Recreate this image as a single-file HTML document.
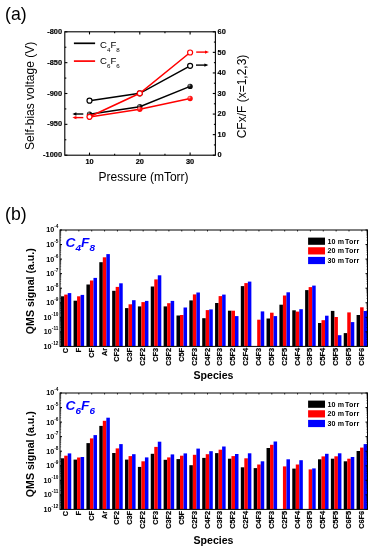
<!DOCTYPE html><html><head><meta charset="utf-8"><title>Figure</title><style>html,body{margin:0;padding:0;background:#fff}svg{display:block}text{font-family:"Liberation Sans", Arial, sans-serif}</style></head><body>
<svg width="374" height="550" viewBox="0 0 374 550">
<rect width="374" height="550" fill="#fff"/>
<text x="5" y="19.6" font-size="17.7" fill="#000">(a)</text>
<text x="5" y="219.6" font-size="17.7" fill="#000">(b)</text>
<g stroke="#000" stroke-width="1.1" fill="none">
<rect x="64.8" y="31.8" width="150.6" height="123.4"/>
<line x1="64.8" y1="31.80" x2="67.39999999999999" y2="31.80"/>
<line x1="64.8" y1="47.23" x2="66.3" y2="47.23"/>
<line x1="64.8" y1="62.65" x2="67.39999999999999" y2="62.65"/>
<line x1="64.8" y1="78.08" x2="66.3" y2="78.08"/>
<line x1="64.8" y1="93.50" x2="67.39999999999999" y2="93.50"/>
<line x1="64.8" y1="108.92" x2="66.3" y2="108.92"/>
<line x1="64.8" y1="124.35" x2="67.39999999999999" y2="124.35"/>
<line x1="64.8" y1="139.78" x2="66.3" y2="139.78"/>
<line x1="64.8" y1="155.20" x2="67.39999999999999" y2="155.20"/>
<line x1="215.4" y1="31.80" x2="212.8" y2="31.80"/>
<line x1="215.4" y1="42.08" x2="213.9" y2="42.08"/>
<line x1="215.4" y1="52.37" x2="212.8" y2="52.37"/>
<line x1="215.4" y1="62.65" x2="213.9" y2="62.65"/>
<line x1="215.4" y1="72.93" x2="212.8" y2="72.93"/>
<line x1="215.4" y1="83.22" x2="213.9" y2="83.22"/>
<line x1="215.4" y1="93.50" x2="212.8" y2="93.50"/>
<line x1="215.4" y1="103.78" x2="213.9" y2="103.78"/>
<line x1="215.4" y1="114.07" x2="212.8" y2="114.07"/>
<line x1="215.4" y1="124.35" x2="213.9" y2="124.35"/>
<line x1="215.4" y1="134.63" x2="212.8" y2="134.63"/>
<line x1="215.4" y1="144.92" x2="213.9" y2="144.92"/>
<line x1="215.4" y1="155.20" x2="212.8" y2="155.20"/>
<line x1="89.50" y1="155.2" x2="89.50" y2="152.6"/>
<line x1="89.50" y1="31.8" x2="89.50" y2="34.4"/>
<line x1="114.65" y1="155.2" x2="114.65" y2="153.7"/>
<line x1="114.65" y1="31.8" x2="114.65" y2="33.3"/>
<line x1="139.80" y1="155.2" x2="139.80" y2="152.6"/>
<line x1="139.80" y1="31.8" x2="139.80" y2="34.4"/>
<line x1="164.95" y1="155.2" x2="164.95" y2="153.7"/>
<line x1="164.95" y1="31.8" x2="164.95" y2="33.3"/>
<line x1="190.10" y1="155.2" x2="190.10" y2="152.6"/>
<line x1="190.10" y1="31.8" x2="190.10" y2="34.4"/>
</g>
<g font-size="7.4" font-weight="bold" fill="#000" stroke="#000" stroke-width="0.15">
<text x="62" y="33.90" text-anchor="end">-800</text>
<text x="62" y="64.75" text-anchor="end">-850</text>
<text x="62" y="95.60" text-anchor="end">-900</text>
<text x="62" y="126.45" text-anchor="end">-950</text>
<text x="62" y="157.30" text-anchor="end">-1000</text>
<text x="217.6" y="34.05">60</text>
<text x="217.6" y="54.62">50</text>
<text x="217.6" y="75.18">40</text>
<text x="217.6" y="95.75">30</text>
<text x="217.6" y="116.32">20</text>
<text x="217.6" y="136.88">10</text>
<text x="217.6" y="157.45">0</text>
<text x="89.50" y="163.5" text-anchor="middle">10</text>
<text x="139.80" y="163.5" text-anchor="middle">20</text>
<text x="190.10" y="163.5" text-anchor="middle">30</text>
</g>
<g font-size="12" fill="#000">
<text transform="translate(34.2,95.9) rotate(-90)" text-anchor="middle">Self-bias voltage (V)</text>
<text transform="translate(246.2,96.5) rotate(-90)" text-anchor="middle">CFx/F (x=1,2,3)</text>
<text x="143.6" y="181" text-anchor="middle">Pressure (mTorr)</text>
</g>
<g stroke-width="1.7" fill="none"><line x1="73.9" y1="43.3" x2="95.1" y2="43.3" stroke="#000"/><line x1="73.9" y1="61.1" x2="95.1" y2="61.1" stroke="#f00"/></g>
<g font-size="9.6" fill="#000"><text x="100" y="47.5">C<tspan font-size="6.2" dy="4.2">4</tspan><tspan dy="-4.2">F</tspan><tspan font-size="6.2" dy="4.2">8</tspan></text>
<text x="100" y="63.8">C<tspan font-size="6.2" dy="4.2">6</tspan><tspan dy="-4.2">F</tspan><tspan font-size="6.2" dy="4.2">6</tspan></text></g>
<defs><radialGradient id="gk" cx="0.35" cy="0.3" r="0.7"><stop offset="0" stop-color="#999"/><stop offset="0.45" stop-color="#111"/><stop offset="1" stop-color="#000"/></radialGradient><radialGradient id="gr" cx="0.35" cy="0.3" r="0.7"><stop offset="0" stop-color="#ffb0b0"/><stop offset="0.45" stop-color="#ff1a1a"/><stop offset="1" stop-color="#f00"/></radialGradient></defs>
<polyline points="89.50,114.20 139.80,106.70 190.10,86.40" fill="none" stroke="#000" stroke-width="1.5"/>
<circle cx="89.50" cy="114.20" r="2.65" fill="url(#gk)"/>
<circle cx="139.80" cy="106.70" r="2.65" fill="url(#gk)"/>
<circle cx="190.10" cy="86.40" r="2.65" fill="url(#gk)"/>
<polyline points="89.50,117.00 139.80,109.30 190.10,98.50" fill="none" stroke="#f00" stroke-width="1.5"/>
<circle cx="89.50" cy="117.00" r="2.65" fill="url(#gr)"/>
<circle cx="139.80" cy="109.30" r="2.65" fill="url(#gr)"/>
<circle cx="190.10" cy="98.50" r="2.65" fill="url(#gr)"/>
<polyline points="89.50,100.70 139.80,93.30 190.10,65.80" fill="none" stroke="#000" stroke-width="1.5"/>
<circle cx="89.50" cy="100.70" r="2.5" fill="#fff" stroke="#000" stroke-width="1.2"/>
<circle cx="139.80" cy="93.30" r="2.5" fill="#fff" stroke="#000" stroke-width="1.2"/>
<circle cx="190.10" cy="65.80" r="2.5" fill="#fff" stroke="#000" stroke-width="1.2"/>
<polyline points="89.50,116.80 139.80,93.30 190.10,52.50" fill="none" stroke="#f00" stroke-width="1.5"/>
<circle cx="89.50" cy="116.80" r="2.5" fill="#fff" stroke="#f00" stroke-width="1.2"/>
<circle cx="139.80" cy="93.30" r="2.5" fill="#fff" stroke="#f00" stroke-width="1.2"/>
<circle cx="190.10" cy="52.50" r="2.5" fill="#fff" stroke="#f00" stroke-width="1.2"/>
<line x1="83.3" y1="114.0" x2="74.4" y2="114.0" stroke="#000" stroke-width="1.4"/>
<polygon points="72.4,114.0 76.4,112.3 76.4,115.7" fill="#000"/>
<line x1="83.3" y1="117.6" x2="74.4" y2="117.6" stroke="#f00" stroke-width="1.4"/>
<polygon points="72.4,117.6 76.4,115.89999999999999 76.4,119.3" fill="#f00"/>
<line x1="196.2" y1="52.1" x2="207.0" y2="52.1" stroke="#f00" stroke-width="1.4"/>
<polygon points="209.0,52.1 205.0,50.4 205.0,53.800000000000004" fill="#f00"/>
<line x1="196.0" y1="65.1" x2="206.4" y2="65.1" stroke="#000" stroke-width="1.4"/>
<polygon points="208.4,65.1 204.4,63.39999999999999 204.4,66.8" fill="#000"/>
<rect x="60.70" y="296.30" width="3.52" height="50.10" fill="#000"/>
<rect x="64.22" y="294.60" width="3.52" height="51.80" fill="#f00"/>
<rect x="67.74" y="293.10" width="3.52" height="53.30" fill="#00f"/>
<rect x="73.56" y="300.70" width="3.52" height="45.70" fill="#000"/>
<rect x="77.08" y="296.30" width="3.52" height="50.10" fill="#f00"/>
<rect x="80.61" y="294.90" width="3.52" height="51.50" fill="#00f"/>
<rect x="86.43" y="284.50" width="3.52" height="61.90" fill="#000"/>
<rect x="89.95" y="280.50" width="3.52" height="65.90" fill="#f00"/>
<rect x="93.47" y="277.90" width="3.52" height="68.50" fill="#00f"/>
<rect x="99.30" y="262.20" width="3.52" height="84.20" fill="#000"/>
<rect x="102.81" y="257.30" width="3.52" height="89.10" fill="#f00"/>
<rect x="106.34" y="254.10" width="3.52" height="92.30" fill="#00f"/>
<rect x="112.16" y="290.80" width="3.52" height="55.60" fill="#000"/>
<rect x="115.68" y="286.90" width="3.52" height="59.50" fill="#f00"/>
<rect x="119.20" y="283.30" width="3.52" height="63.10" fill="#00f"/>
<rect x="125.03" y="308.10" width="3.52" height="38.30" fill="#000"/>
<rect x="128.55" y="304.30" width="3.52" height="42.10" fill="#f00"/>
<rect x="132.06" y="300.20" width="3.52" height="46.20" fill="#00f"/>
<rect x="137.89" y="306.40" width="3.52" height="40.00" fill="#000"/>
<rect x="141.41" y="302.10" width="3.52" height="44.30" fill="#f00"/>
<rect x="144.93" y="300.90" width="3.52" height="45.50" fill="#00f"/>
<rect x="150.75" y="286.50" width="3.52" height="59.90" fill="#000"/>
<rect x="154.28" y="279.40" width="3.52" height="67.00" fill="#f00"/>
<rect x="157.79" y="275.30" width="3.52" height="71.10" fill="#00f"/>
<rect x="163.62" y="306.40" width="3.52" height="40.00" fill="#000"/>
<rect x="167.14" y="303.20" width="3.52" height="43.20" fill="#f00"/>
<rect x="170.66" y="300.90" width="3.52" height="45.50" fill="#00f"/>
<rect x="176.49" y="315.50" width="3.52" height="30.90" fill="#000"/>
<rect x="180.01" y="315.00" width="3.52" height="31.40" fill="#f00"/>
<rect x="183.53" y="307.50" width="3.52" height="38.90" fill="#00f"/>
<rect x="189.35" y="300.40" width="3.52" height="46.00" fill="#000"/>
<rect x="192.87" y="294.40" width="3.52" height="52.00" fill="#f00"/>
<rect x="196.39" y="292.50" width="3.52" height="53.90" fill="#00f"/>
<rect x="202.22" y="318.20" width="3.52" height="28.20" fill="#000"/>
<rect x="205.74" y="310.10" width="3.52" height="36.30" fill="#f00"/>
<rect x="209.26" y="309.40" width="3.52" height="37.00" fill="#00f"/>
<rect x="215.08" y="303.00" width="3.52" height="43.40" fill="#000"/>
<rect x="218.60" y="296.10" width="3.52" height="50.30" fill="#f00"/>
<rect x="222.12" y="294.60" width="3.52" height="51.80" fill="#00f"/>
<rect x="227.94" y="310.70" width="3.52" height="35.70" fill="#000"/>
<rect x="231.47" y="310.70" width="3.52" height="35.70" fill="#f00"/>
<rect x="234.98" y="316.10" width="3.52" height="30.30" fill="#00f"/>
<rect x="240.81" y="286.10" width="3.52" height="60.30" fill="#000"/>
<rect x="244.33" y="283.10" width="3.52" height="63.30" fill="#f00"/>
<rect x="247.85" y="281.60" width="3.52" height="64.80" fill="#00f"/>
<rect x="257.19" y="319.70" width="3.52" height="26.70" fill="#f00"/>
<rect x="260.72" y="311.40" width="3.52" height="35.00" fill="#00f"/>
<rect x="266.54" y="318.50" width="3.52" height="27.90" fill="#000"/>
<rect x="270.06" y="312.70" width="3.52" height="33.70" fill="#f00"/>
<rect x="273.58" y="316.10" width="3.52" height="30.30" fill="#00f"/>
<rect x="279.41" y="304.70" width="3.52" height="41.70" fill="#000"/>
<rect x="282.93" y="295.50" width="3.52" height="50.90" fill="#f00"/>
<rect x="286.45" y="292.30" width="3.52" height="54.10" fill="#00f"/>
<rect x="292.27" y="310.30" width="3.52" height="36.10" fill="#000"/>
<rect x="295.79" y="311.60" width="3.52" height="34.80" fill="#f00"/>
<rect x="299.31" y="309.20" width="3.52" height="37.20" fill="#00f"/>
<rect x="305.13" y="290.10" width="3.52" height="56.30" fill="#000"/>
<rect x="308.65" y="287.10" width="3.52" height="59.30" fill="#f00"/>
<rect x="312.18" y="285.60" width="3.52" height="60.80" fill="#00f"/>
<rect x="318.00" y="323.00" width="3.52" height="23.40" fill="#000"/>
<rect x="321.52" y="320.20" width="3.52" height="26.20" fill="#f00"/>
<rect x="325.04" y="315.70" width="3.52" height="30.70" fill="#00f"/>
<rect x="330.87" y="310.90" width="3.52" height="35.50" fill="#000"/>
<rect x="334.38" y="317.00" width="3.52" height="29.40" fill="#f00"/>
<rect x="337.91" y="335.20" width="3.52" height="11.20" fill="#00f"/>
<rect x="343.73" y="333.10" width="3.52" height="13.30" fill="#000"/>
<rect x="347.25" y="312.40" width="3.52" height="34.00" fill="#f00"/>
<rect x="350.77" y="322.10" width="3.52" height="24.30" fill="#00f"/>
<rect x="356.59" y="315.00" width="3.52" height="31.40" fill="#000"/>
<rect x="360.11" y="307.30" width="3.52" height="39.10" fill="#f00"/>
<rect x="363.63" y="311.00" width="3.52" height="35.40" fill="#00f"/>
<g stroke="#000" stroke-width="1" fill="none">
<rect x="60.0" y="230.0" width="307.5" height="116.4"/>
<line x1="60.0" y1="230.00" x2="62.0" y2="230.00"/>
<line x1="367.5" y1="230.00" x2="365.5" y2="230.00"/>
<line x1="60.0" y1="244.55" x2="62.0" y2="244.55"/>
<line x1="367.5" y1="244.55" x2="365.5" y2="244.55"/>
<line x1="60.0" y1="259.10" x2="62.0" y2="259.10"/>
<line x1="367.5" y1="259.10" x2="365.5" y2="259.10"/>
<line x1="60.0" y1="273.65" x2="62.0" y2="273.65"/>
<line x1="367.5" y1="273.65" x2="365.5" y2="273.65"/>
<line x1="60.0" y1="288.20" x2="62.0" y2="288.20"/>
<line x1="367.5" y1="288.20" x2="365.5" y2="288.20"/>
<line x1="60.0" y1="302.75" x2="62.0" y2="302.75"/>
<line x1="367.5" y1="302.75" x2="365.5" y2="302.75"/>
<line x1="60.0" y1="317.30" x2="62.0" y2="317.30"/>
<line x1="367.5" y1="317.30" x2="365.5" y2="317.30"/>
<line x1="60.0" y1="331.85" x2="62.0" y2="331.85"/>
<line x1="367.5" y1="331.85" x2="365.5" y2="331.85"/>
<line x1="60.0" y1="346.40" x2="62.0" y2="346.40"/>
<line x1="367.5" y1="346.40" x2="365.5" y2="346.40"/>
</g>
<g stroke="#000" stroke-width="0.5" fill="none">
<line x1="60.0" y1="240.17" x2="61.2" y2="240.17"/>
<line x1="367.5" y1="240.17" x2="366.3" y2="240.17"/>
<line x1="60.0" y1="237.61" x2="61.2" y2="237.61"/>
<line x1="367.5" y1="237.61" x2="366.3" y2="237.61"/>
<line x1="60.0" y1="235.79" x2="61.2" y2="235.79"/>
<line x1="367.5" y1="235.79" x2="366.3" y2="235.79"/>
<line x1="60.0" y1="234.38" x2="61.2" y2="234.38"/>
<line x1="367.5" y1="234.38" x2="366.3" y2="234.38"/>
<line x1="60.0" y1="233.23" x2="61.2" y2="233.23"/>
<line x1="367.5" y1="233.23" x2="366.3" y2="233.23"/>
<line x1="60.0" y1="232.25" x2="61.2" y2="232.25"/>
<line x1="367.5" y1="232.25" x2="366.3" y2="232.25"/>
<line x1="60.0" y1="231.41" x2="61.2" y2="231.41"/>
<line x1="367.5" y1="231.41" x2="366.3" y2="231.41"/>
<line x1="60.0" y1="230.67" x2="61.2" y2="230.67"/>
<line x1="367.5" y1="230.67" x2="366.3" y2="230.67"/>
<line x1="60.0" y1="254.72" x2="61.2" y2="254.72"/>
<line x1="367.5" y1="254.72" x2="366.3" y2="254.72"/>
<line x1="60.0" y1="252.16" x2="61.2" y2="252.16"/>
<line x1="367.5" y1="252.16" x2="366.3" y2="252.16"/>
<line x1="60.0" y1="250.34" x2="61.2" y2="250.34"/>
<line x1="367.5" y1="250.34" x2="366.3" y2="250.34"/>
<line x1="60.0" y1="248.93" x2="61.2" y2="248.93"/>
<line x1="367.5" y1="248.93" x2="366.3" y2="248.93"/>
<line x1="60.0" y1="247.78" x2="61.2" y2="247.78"/>
<line x1="367.5" y1="247.78" x2="366.3" y2="247.78"/>
<line x1="60.0" y1="246.80" x2="61.2" y2="246.80"/>
<line x1="367.5" y1="246.80" x2="366.3" y2="246.80"/>
<line x1="60.0" y1="245.96" x2="61.2" y2="245.96"/>
<line x1="367.5" y1="245.96" x2="366.3" y2="245.96"/>
<line x1="60.0" y1="245.22" x2="61.2" y2="245.22"/>
<line x1="367.5" y1="245.22" x2="366.3" y2="245.22"/>
<line x1="60.0" y1="269.27" x2="61.2" y2="269.27"/>
<line x1="367.5" y1="269.27" x2="366.3" y2="269.27"/>
<line x1="60.0" y1="266.71" x2="61.2" y2="266.71"/>
<line x1="367.5" y1="266.71" x2="366.3" y2="266.71"/>
<line x1="60.0" y1="264.89" x2="61.2" y2="264.89"/>
<line x1="367.5" y1="264.89" x2="366.3" y2="264.89"/>
<line x1="60.0" y1="263.48" x2="61.2" y2="263.48"/>
<line x1="367.5" y1="263.48" x2="366.3" y2="263.48"/>
<line x1="60.0" y1="262.33" x2="61.2" y2="262.33"/>
<line x1="367.5" y1="262.33" x2="366.3" y2="262.33"/>
<line x1="60.0" y1="261.35" x2="61.2" y2="261.35"/>
<line x1="367.5" y1="261.35" x2="366.3" y2="261.35"/>
<line x1="60.0" y1="260.51" x2="61.2" y2="260.51"/>
<line x1="367.5" y1="260.51" x2="366.3" y2="260.51"/>
<line x1="60.0" y1="259.77" x2="61.2" y2="259.77"/>
<line x1="367.5" y1="259.77" x2="366.3" y2="259.77"/>
<line x1="60.0" y1="283.82" x2="61.2" y2="283.82"/>
<line x1="367.5" y1="283.82" x2="366.3" y2="283.82"/>
<line x1="60.0" y1="281.26" x2="61.2" y2="281.26"/>
<line x1="367.5" y1="281.26" x2="366.3" y2="281.26"/>
<line x1="60.0" y1="279.44" x2="61.2" y2="279.44"/>
<line x1="367.5" y1="279.44" x2="366.3" y2="279.44"/>
<line x1="60.0" y1="278.03" x2="61.2" y2="278.03"/>
<line x1="367.5" y1="278.03" x2="366.3" y2="278.03"/>
<line x1="60.0" y1="276.88" x2="61.2" y2="276.88"/>
<line x1="367.5" y1="276.88" x2="366.3" y2="276.88"/>
<line x1="60.0" y1="275.90" x2="61.2" y2="275.90"/>
<line x1="367.5" y1="275.90" x2="366.3" y2="275.90"/>
<line x1="60.0" y1="275.06" x2="61.2" y2="275.06"/>
<line x1="367.5" y1="275.06" x2="366.3" y2="275.06"/>
<line x1="60.0" y1="274.32" x2="61.2" y2="274.32"/>
<line x1="367.5" y1="274.32" x2="366.3" y2="274.32"/>
<line x1="60.0" y1="298.37" x2="61.2" y2="298.37"/>
<line x1="367.5" y1="298.37" x2="366.3" y2="298.37"/>
<line x1="60.0" y1="295.81" x2="61.2" y2="295.81"/>
<line x1="367.5" y1="295.81" x2="366.3" y2="295.81"/>
<line x1="60.0" y1="293.99" x2="61.2" y2="293.99"/>
<line x1="367.5" y1="293.99" x2="366.3" y2="293.99"/>
<line x1="60.0" y1="292.58" x2="61.2" y2="292.58"/>
<line x1="367.5" y1="292.58" x2="366.3" y2="292.58"/>
<line x1="60.0" y1="291.43" x2="61.2" y2="291.43"/>
<line x1="367.5" y1="291.43" x2="366.3" y2="291.43"/>
<line x1="60.0" y1="290.45" x2="61.2" y2="290.45"/>
<line x1="367.5" y1="290.45" x2="366.3" y2="290.45"/>
<line x1="60.0" y1="289.61" x2="61.2" y2="289.61"/>
<line x1="367.5" y1="289.61" x2="366.3" y2="289.61"/>
<line x1="60.0" y1="288.87" x2="61.2" y2="288.87"/>
<line x1="367.5" y1="288.87" x2="366.3" y2="288.87"/>
<line x1="60.0" y1="312.92" x2="61.2" y2="312.92"/>
<line x1="367.5" y1="312.92" x2="366.3" y2="312.92"/>
<line x1="60.0" y1="310.36" x2="61.2" y2="310.36"/>
<line x1="367.5" y1="310.36" x2="366.3" y2="310.36"/>
<line x1="60.0" y1="308.54" x2="61.2" y2="308.54"/>
<line x1="367.5" y1="308.54" x2="366.3" y2="308.54"/>
<line x1="60.0" y1="307.13" x2="61.2" y2="307.13"/>
<line x1="367.5" y1="307.13" x2="366.3" y2="307.13"/>
<line x1="60.0" y1="305.98" x2="61.2" y2="305.98"/>
<line x1="367.5" y1="305.98" x2="366.3" y2="305.98"/>
<line x1="60.0" y1="305.00" x2="61.2" y2="305.00"/>
<line x1="367.5" y1="305.00" x2="366.3" y2="305.00"/>
<line x1="60.0" y1="304.16" x2="61.2" y2="304.16"/>
<line x1="367.5" y1="304.16" x2="366.3" y2="304.16"/>
<line x1="60.0" y1="303.42" x2="61.2" y2="303.42"/>
<line x1="367.5" y1="303.42" x2="366.3" y2="303.42"/>
<line x1="60.0" y1="327.47" x2="61.2" y2="327.47"/>
<line x1="367.5" y1="327.47" x2="366.3" y2="327.47"/>
<line x1="60.0" y1="324.91" x2="61.2" y2="324.91"/>
<line x1="367.5" y1="324.91" x2="366.3" y2="324.91"/>
<line x1="60.0" y1="323.09" x2="61.2" y2="323.09"/>
<line x1="367.5" y1="323.09" x2="366.3" y2="323.09"/>
<line x1="60.0" y1="321.68" x2="61.2" y2="321.68"/>
<line x1="367.5" y1="321.68" x2="366.3" y2="321.68"/>
<line x1="60.0" y1="320.53" x2="61.2" y2="320.53"/>
<line x1="367.5" y1="320.53" x2="366.3" y2="320.53"/>
<line x1="60.0" y1="319.55" x2="61.2" y2="319.55"/>
<line x1="367.5" y1="319.55" x2="366.3" y2="319.55"/>
<line x1="60.0" y1="318.71" x2="61.2" y2="318.71"/>
<line x1="367.5" y1="318.71" x2="366.3" y2="318.71"/>
<line x1="60.0" y1="317.97" x2="61.2" y2="317.97"/>
<line x1="367.5" y1="317.97" x2="366.3" y2="317.97"/>
<line x1="60.0" y1="342.02" x2="61.2" y2="342.02"/>
<line x1="367.5" y1="342.02" x2="366.3" y2="342.02"/>
<line x1="60.0" y1="339.46" x2="61.2" y2="339.46"/>
<line x1="367.5" y1="339.46" x2="366.3" y2="339.46"/>
<line x1="60.0" y1="337.64" x2="61.2" y2="337.64"/>
<line x1="367.5" y1="337.64" x2="366.3" y2="337.64"/>
<line x1="60.0" y1="336.23" x2="61.2" y2="336.23"/>
<line x1="367.5" y1="336.23" x2="366.3" y2="336.23"/>
<line x1="60.0" y1="335.08" x2="61.2" y2="335.08"/>
<line x1="367.5" y1="335.08" x2="366.3" y2="335.08"/>
<line x1="60.0" y1="334.10" x2="61.2" y2="334.10"/>
<line x1="367.5" y1="334.10" x2="366.3" y2="334.10"/>
<line x1="60.0" y1="333.26" x2="61.2" y2="333.26"/>
<line x1="367.5" y1="333.26" x2="366.3" y2="333.26"/>
<line x1="60.0" y1="332.52" x2="61.2" y2="332.52"/>
<line x1="367.5" y1="332.52" x2="366.3" y2="332.52"/>
<line x1="65.98" y1="230.0" x2="65.98" y2="231.5" stroke-width="0.8"/>
<line x1="78.84" y1="230.0" x2="78.84" y2="231.5" stroke-width="0.8"/>
<line x1="91.71" y1="230.0" x2="91.71" y2="231.5" stroke-width="0.8"/>
<line x1="104.58" y1="230.0" x2="104.58" y2="231.5" stroke-width="0.8"/>
<line x1="117.44" y1="230.0" x2="117.44" y2="231.5" stroke-width="0.8"/>
<line x1="130.31" y1="230.0" x2="130.31" y2="231.5" stroke-width="0.8"/>
<line x1="143.17" y1="230.0" x2="143.17" y2="231.5" stroke-width="0.8"/>
<line x1="156.03" y1="230.0" x2="156.03" y2="231.5" stroke-width="0.8"/>
<line x1="168.90" y1="230.0" x2="168.90" y2="231.5" stroke-width="0.8"/>
<line x1="181.77" y1="230.0" x2="181.77" y2="231.5" stroke-width="0.8"/>
<line x1="194.63" y1="230.0" x2="194.63" y2="231.5" stroke-width="0.8"/>
<line x1="207.50" y1="230.0" x2="207.50" y2="231.5" stroke-width="0.8"/>
<line x1="220.36" y1="230.0" x2="220.36" y2="231.5" stroke-width="0.8"/>
<line x1="233.22" y1="230.0" x2="233.22" y2="231.5" stroke-width="0.8"/>
<line x1="246.09" y1="230.0" x2="246.09" y2="231.5" stroke-width="0.8"/>
<line x1="258.95" y1="230.0" x2="258.95" y2="231.5" stroke-width="0.8"/>
<line x1="271.82" y1="230.0" x2="271.82" y2="231.5" stroke-width="0.8"/>
<line x1="284.69" y1="230.0" x2="284.69" y2="231.5" stroke-width="0.8"/>
<line x1="297.55" y1="230.0" x2="297.55" y2="231.5" stroke-width="0.8"/>
<line x1="310.41" y1="230.0" x2="310.41" y2="231.5" stroke-width="0.8"/>
<line x1="323.28" y1="230.0" x2="323.28" y2="231.5" stroke-width="0.8"/>
<line x1="336.14" y1="230.0" x2="336.14" y2="231.5" stroke-width="0.8"/>
<line x1="349.01" y1="230.0" x2="349.01" y2="231.5" stroke-width="0.8"/>
<line x1="361.87" y1="230.0" x2="361.87" y2="231.5" stroke-width="0.8"/>
</g>
<g fill="#000">
<text x="58.4" y="232.45" text-anchor="end" font-size="7.2" font-weight="bold">10<tspan font-size="4.7" dy="-4">-4</tspan></text>
<text x="58.4" y="247.00" text-anchor="end" font-size="7.2" font-weight="bold">10<tspan font-size="4.7" dy="-4">-5</tspan></text>
<text x="58.4" y="261.55" text-anchor="end" font-size="7.2" font-weight="bold">10<tspan font-size="4.7" dy="-4">-6</tspan></text>
<text x="58.4" y="276.10" text-anchor="end" font-size="7.2" font-weight="bold">10<tspan font-size="4.7" dy="-4">-7</tspan></text>
<text x="58.4" y="290.65" text-anchor="end" font-size="7.2" font-weight="bold">10<tspan font-size="4.7" dy="-4">-8</tspan></text>
<text x="58.4" y="305.20" text-anchor="end" font-size="7.2" font-weight="bold">10<tspan font-size="4.7" dy="-4">-9</tspan></text>
<text x="58.4" y="319.75" text-anchor="end" font-size="7.2" font-weight="bold">10<tspan font-size="4.7" dy="-4">-10</tspan></text>
<text x="58.4" y="334.30" text-anchor="end" font-size="7.2" font-weight="bold">10<tspan font-size="4.7" dy="-4">-11</tspan></text>
<text x="58.4" y="348.85" text-anchor="end" font-size="7.2" font-weight="bold">10<tspan font-size="4.7" dy="-4">-12</tspan></text>
</g>
<g font-size="7.5" font-weight="bold" fill="#000" stroke="#000" stroke-width="0.2">
<text transform="translate(67.98,347.90) rotate(-90) scale(0.98,1)" text-anchor="end">C</text>
<text transform="translate(80.84,347.90) rotate(-90) scale(0.98,1)" text-anchor="end">F</text>
<text transform="translate(93.71,347.90) rotate(-90) scale(0.98,1)" text-anchor="end">CF</text>
<text transform="translate(106.58,347.90) rotate(-90) scale(0.98,1)" text-anchor="end">Ar</text>
<text transform="translate(119.44,347.90) rotate(-90) scale(0.98,1)" text-anchor="end">CF2</text>
<text transform="translate(132.31,347.90) rotate(-90) scale(0.98,1)" text-anchor="end">C3F</text>
<text transform="translate(145.17,347.90) rotate(-90) scale(0.98,1)" text-anchor="end">C2F2</text>
<text transform="translate(158.03,347.90) rotate(-90) scale(0.98,1)" text-anchor="end">CF3</text>
<text transform="translate(170.90,347.90) rotate(-90) scale(0.98,1)" text-anchor="end">C3F2</text>
<text transform="translate(183.77,347.90) rotate(-90) scale(0.98,1)" text-anchor="end">C5F</text>
<text transform="translate(196.63,347.90) rotate(-90) scale(0.98,1)" text-anchor="end">C2F3</text>
<text transform="translate(209.50,347.90) rotate(-90) scale(0.98,1)" text-anchor="end">C4F2</text>
<text transform="translate(222.36,347.90) rotate(-90) scale(0.98,1)" text-anchor="end">C3F3</text>
<text transform="translate(235.22,347.90) rotate(-90) scale(0.98,1)" text-anchor="end">C5F2</text>
<text transform="translate(248.09,347.90) rotate(-90) scale(0.98,1)" text-anchor="end">C2F4</text>
<text transform="translate(260.95,347.90) rotate(-90) scale(0.98,1)" text-anchor="end">C4F3</text>
<text transform="translate(273.82,347.90) rotate(-90) scale(0.98,1)" text-anchor="end">C5F3</text>
<text transform="translate(286.69,347.90) rotate(-90) scale(0.98,1)" text-anchor="end">C2F5</text>
<text transform="translate(299.55,347.90) rotate(-90) scale(0.98,1)" text-anchor="end">C4F4</text>
<text transform="translate(312.41,347.90) rotate(-90) scale(0.98,1)" text-anchor="end">C3F5</text>
<text transform="translate(325.28,347.90) rotate(-90) scale(0.98,1)" text-anchor="end">C5F4</text>
<text transform="translate(338.14,347.90) rotate(-90) scale(0.98,1)" text-anchor="end">C5F5</text>
<text transform="translate(351.01,347.90) rotate(-90) scale(0.98,1)" text-anchor="end">C6F5</text>
<text transform="translate(363.87,347.90) rotate(-90) scale(0.98,1)" text-anchor="end">C6F6</text>
</g>
<text x="213.5" y="378.8" font-size="10.6" font-weight="bold" text-anchor="middle" fill="#000">Species</text>
<text transform="translate(34.3,291.2) rotate(-90)" font-size="10.6" font-weight="bold" text-anchor="middle" fill="#000">QMS signal (a.u.)</text>
<text transform="translate(65.5,246.5) scale(1.05,1)" font-size="13.1" font-weight="bold" font-style="italic" fill="#00f">C<tspan font-size="9.5" dy="4.3">4</tspan><tspan dy="-4.3">F</tspan><tspan font-size="9.5" dy="4.3">8</tspan></text>
<rect x="308.1" y="237.60" width="16.9" height="7.2" fill="#000"/>
<text x="327.4" y="243.60" font-size="7.1" font-weight="bold" fill="#000" letter-spacing="0.17">10 m<tspan dx="0.8">Torr</tspan></text>
<rect x="308.1" y="247.25" width="16.9" height="7.2" fill="#f00"/>
<text x="327.4" y="253.25" font-size="7.1" font-weight="bold" fill="#000" letter-spacing="0.17">20 m<tspan dx="0.8">Torr</tspan></text>
<rect x="308.1" y="256.90" width="16.9" height="7.2" fill="#00f"/>
<text x="327.4" y="262.90" font-size="7.1" font-weight="bold" fill="#000" letter-spacing="0.17">30 m<tspan dx="0.8">Torr</tspan></text>
<rect x="60.70" y="458.30" width="3.52" height="51.10" fill="#000"/>
<rect x="64.22" y="455.70" width="3.52" height="53.70" fill="#f00"/>
<rect x="67.74" y="453.40" width="3.52" height="56.00" fill="#00f"/>
<rect x="73.56" y="459.60" width="3.52" height="49.80" fill="#000"/>
<rect x="77.08" y="457.50" width="3.52" height="51.90" fill="#f00"/>
<rect x="80.61" y="457.00" width="3.52" height="52.40" fill="#00f"/>
<rect x="86.43" y="443.10" width="3.52" height="66.30" fill="#000"/>
<rect x="89.95" y="438.40" width="3.52" height="71.00" fill="#f00"/>
<rect x="93.47" y="435.10" width="3.52" height="74.30" fill="#00f"/>
<rect x="99.30" y="425.90" width="3.52" height="83.50" fill="#000"/>
<rect x="102.81" y="420.80" width="3.52" height="88.60" fill="#f00"/>
<rect x="106.34" y="417.70" width="3.52" height="91.70" fill="#00f"/>
<rect x="112.16" y="453.00" width="3.52" height="56.40" fill="#000"/>
<rect x="115.68" y="448.40" width="3.52" height="61.00" fill="#f00"/>
<rect x="119.20" y="444.10" width="3.52" height="65.30" fill="#00f"/>
<rect x="125.03" y="459.60" width="3.52" height="49.80" fill="#000"/>
<rect x="128.55" y="456.10" width="3.52" height="53.30" fill="#f00"/>
<rect x="132.06" y="454.20" width="3.52" height="55.20" fill="#00f"/>
<rect x="137.89" y="466.90" width="3.52" height="42.50" fill="#000"/>
<rect x="141.41" y="461.30" width="3.52" height="48.10" fill="#f00"/>
<rect x="144.93" y="457.40" width="3.52" height="52.00" fill="#00f"/>
<rect x="150.75" y="453.80" width="3.52" height="55.60" fill="#000"/>
<rect x="154.28" y="446.90" width="3.52" height="62.50" fill="#f00"/>
<rect x="157.79" y="441.70" width="3.52" height="67.70" fill="#00f"/>
<rect x="163.62" y="459.80" width="3.52" height="49.60" fill="#000"/>
<rect x="167.14" y="457.40" width="3.52" height="52.00" fill="#f00"/>
<rect x="170.66" y="454.40" width="3.52" height="55.00" fill="#00f"/>
<rect x="176.49" y="459.10" width="3.52" height="50.30" fill="#000"/>
<rect x="180.01" y="455.70" width="3.52" height="53.70" fill="#f00"/>
<rect x="183.53" y="453.40" width="3.52" height="56.00" fill="#00f"/>
<rect x="189.35" y="465.20" width="3.52" height="44.20" fill="#000"/>
<rect x="192.87" y="454.80" width="3.52" height="54.60" fill="#f00"/>
<rect x="196.39" y="448.60" width="3.52" height="60.80" fill="#00f"/>
<rect x="202.22" y="457.90" width="3.52" height="51.50" fill="#000"/>
<rect x="205.74" y="454.20" width="3.52" height="55.20" fill="#f00"/>
<rect x="209.26" y="451.20" width="3.52" height="58.20" fill="#00f"/>
<rect x="215.08" y="453.10" width="3.52" height="56.30" fill="#000"/>
<rect x="218.60" y="449.70" width="3.52" height="59.70" fill="#f00"/>
<rect x="222.12" y="446.50" width="3.52" height="62.90" fill="#00f"/>
<rect x="227.94" y="458.70" width="3.52" height="50.70" fill="#000"/>
<rect x="231.47" y="456.10" width="3.52" height="53.30" fill="#f00"/>
<rect x="234.98" y="454.00" width="3.52" height="55.40" fill="#00f"/>
<rect x="240.81" y="467.30" width="3.52" height="42.10" fill="#000"/>
<rect x="244.33" y="458.30" width="3.52" height="51.10" fill="#f00"/>
<rect x="247.85" y="453.30" width="3.52" height="56.10" fill="#00f"/>
<rect x="253.68" y="468.10" width="3.52" height="41.30" fill="#000"/>
<rect x="257.19" y="464.50" width="3.52" height="44.90" fill="#f00"/>
<rect x="260.72" y="461.30" width="3.52" height="48.10" fill="#00f"/>
<rect x="266.54" y="448.00" width="3.52" height="61.40" fill="#000"/>
<rect x="270.06" y="444.80" width="3.52" height="64.60" fill="#f00"/>
<rect x="273.58" y="441.50" width="3.52" height="67.90" fill="#00f"/>
<rect x="282.93" y="466.40" width="3.52" height="43.00" fill="#f00"/>
<rect x="286.45" y="459.30" width="3.52" height="50.10" fill="#00f"/>
<rect x="292.27" y="468.60" width="3.52" height="40.80" fill="#000"/>
<rect x="295.79" y="464.50" width="3.52" height="44.90" fill="#f00"/>
<rect x="299.31" y="460.20" width="3.52" height="49.20" fill="#00f"/>
<rect x="308.65" y="469.40" width="3.52" height="40.00" fill="#f00"/>
<rect x="312.18" y="468.40" width="3.52" height="41.00" fill="#00f"/>
<rect x="318.00" y="459.30" width="3.52" height="50.10" fill="#000"/>
<rect x="321.52" y="456.40" width="3.52" height="53.00" fill="#f00"/>
<rect x="325.04" y="453.80" width="3.52" height="55.60" fill="#00f"/>
<rect x="330.87" y="458.70" width="3.52" height="50.70" fill="#000"/>
<rect x="334.38" y="456.30" width="3.52" height="53.10" fill="#f00"/>
<rect x="337.91" y="453.30" width="3.52" height="56.10" fill="#00f"/>
<rect x="343.73" y="461.30" width="3.52" height="48.10" fill="#000"/>
<rect x="347.25" y="458.70" width="3.52" height="50.70" fill="#f00"/>
<rect x="350.77" y="457.00" width="3.52" height="52.40" fill="#00f"/>
<rect x="356.59" y="451.00" width="3.52" height="58.40" fill="#000"/>
<rect x="360.11" y="447.60" width="3.52" height="61.80" fill="#f00"/>
<rect x="363.63" y="444.10" width="3.52" height="65.30" fill="#00f"/>
<g stroke="#000" stroke-width="1" fill="none">
<rect x="60.0" y="393.0" width="307.5" height="116.4"/>
<line x1="60.0" y1="393.00" x2="62.0" y2="393.00"/>
<line x1="367.5" y1="393.00" x2="365.5" y2="393.00"/>
<line x1="60.0" y1="407.55" x2="62.0" y2="407.55"/>
<line x1="367.5" y1="407.55" x2="365.5" y2="407.55"/>
<line x1="60.0" y1="422.10" x2="62.0" y2="422.10"/>
<line x1="367.5" y1="422.10" x2="365.5" y2="422.10"/>
<line x1="60.0" y1="436.65" x2="62.0" y2="436.65"/>
<line x1="367.5" y1="436.65" x2="365.5" y2="436.65"/>
<line x1="60.0" y1="451.20" x2="62.0" y2="451.20"/>
<line x1="367.5" y1="451.20" x2="365.5" y2="451.20"/>
<line x1="60.0" y1="465.75" x2="62.0" y2="465.75"/>
<line x1="367.5" y1="465.75" x2="365.5" y2="465.75"/>
<line x1="60.0" y1="480.30" x2="62.0" y2="480.30"/>
<line x1="367.5" y1="480.30" x2="365.5" y2="480.30"/>
<line x1="60.0" y1="494.85" x2="62.0" y2="494.85"/>
<line x1="367.5" y1="494.85" x2="365.5" y2="494.85"/>
<line x1="60.0" y1="509.40" x2="62.0" y2="509.40"/>
<line x1="367.5" y1="509.40" x2="365.5" y2="509.40"/>
</g>
<g stroke="#000" stroke-width="0.5" fill="none">
<line x1="60.0" y1="403.17" x2="61.2" y2="403.17"/>
<line x1="367.5" y1="403.17" x2="366.3" y2="403.17"/>
<line x1="60.0" y1="400.61" x2="61.2" y2="400.61"/>
<line x1="367.5" y1="400.61" x2="366.3" y2="400.61"/>
<line x1="60.0" y1="398.79" x2="61.2" y2="398.79"/>
<line x1="367.5" y1="398.79" x2="366.3" y2="398.79"/>
<line x1="60.0" y1="397.38" x2="61.2" y2="397.38"/>
<line x1="367.5" y1="397.38" x2="366.3" y2="397.38"/>
<line x1="60.0" y1="396.23" x2="61.2" y2="396.23"/>
<line x1="367.5" y1="396.23" x2="366.3" y2="396.23"/>
<line x1="60.0" y1="395.25" x2="61.2" y2="395.25"/>
<line x1="367.5" y1="395.25" x2="366.3" y2="395.25"/>
<line x1="60.0" y1="394.41" x2="61.2" y2="394.41"/>
<line x1="367.5" y1="394.41" x2="366.3" y2="394.41"/>
<line x1="60.0" y1="393.67" x2="61.2" y2="393.67"/>
<line x1="367.5" y1="393.67" x2="366.3" y2="393.67"/>
<line x1="60.0" y1="417.72" x2="61.2" y2="417.72"/>
<line x1="367.5" y1="417.72" x2="366.3" y2="417.72"/>
<line x1="60.0" y1="415.16" x2="61.2" y2="415.16"/>
<line x1="367.5" y1="415.16" x2="366.3" y2="415.16"/>
<line x1="60.0" y1="413.34" x2="61.2" y2="413.34"/>
<line x1="367.5" y1="413.34" x2="366.3" y2="413.34"/>
<line x1="60.0" y1="411.93" x2="61.2" y2="411.93"/>
<line x1="367.5" y1="411.93" x2="366.3" y2="411.93"/>
<line x1="60.0" y1="410.78" x2="61.2" y2="410.78"/>
<line x1="367.5" y1="410.78" x2="366.3" y2="410.78"/>
<line x1="60.0" y1="409.80" x2="61.2" y2="409.80"/>
<line x1="367.5" y1="409.80" x2="366.3" y2="409.80"/>
<line x1="60.0" y1="408.96" x2="61.2" y2="408.96"/>
<line x1="367.5" y1="408.96" x2="366.3" y2="408.96"/>
<line x1="60.0" y1="408.22" x2="61.2" y2="408.22"/>
<line x1="367.5" y1="408.22" x2="366.3" y2="408.22"/>
<line x1="60.0" y1="432.27" x2="61.2" y2="432.27"/>
<line x1="367.5" y1="432.27" x2="366.3" y2="432.27"/>
<line x1="60.0" y1="429.71" x2="61.2" y2="429.71"/>
<line x1="367.5" y1="429.71" x2="366.3" y2="429.71"/>
<line x1="60.0" y1="427.89" x2="61.2" y2="427.89"/>
<line x1="367.5" y1="427.89" x2="366.3" y2="427.89"/>
<line x1="60.0" y1="426.48" x2="61.2" y2="426.48"/>
<line x1="367.5" y1="426.48" x2="366.3" y2="426.48"/>
<line x1="60.0" y1="425.33" x2="61.2" y2="425.33"/>
<line x1="367.5" y1="425.33" x2="366.3" y2="425.33"/>
<line x1="60.0" y1="424.35" x2="61.2" y2="424.35"/>
<line x1="367.5" y1="424.35" x2="366.3" y2="424.35"/>
<line x1="60.0" y1="423.51" x2="61.2" y2="423.51"/>
<line x1="367.5" y1="423.51" x2="366.3" y2="423.51"/>
<line x1="60.0" y1="422.77" x2="61.2" y2="422.77"/>
<line x1="367.5" y1="422.77" x2="366.3" y2="422.77"/>
<line x1="60.0" y1="446.82" x2="61.2" y2="446.82"/>
<line x1="367.5" y1="446.82" x2="366.3" y2="446.82"/>
<line x1="60.0" y1="444.26" x2="61.2" y2="444.26"/>
<line x1="367.5" y1="444.26" x2="366.3" y2="444.26"/>
<line x1="60.0" y1="442.44" x2="61.2" y2="442.44"/>
<line x1="367.5" y1="442.44" x2="366.3" y2="442.44"/>
<line x1="60.0" y1="441.03" x2="61.2" y2="441.03"/>
<line x1="367.5" y1="441.03" x2="366.3" y2="441.03"/>
<line x1="60.0" y1="439.88" x2="61.2" y2="439.88"/>
<line x1="367.5" y1="439.88" x2="366.3" y2="439.88"/>
<line x1="60.0" y1="438.90" x2="61.2" y2="438.90"/>
<line x1="367.5" y1="438.90" x2="366.3" y2="438.90"/>
<line x1="60.0" y1="438.06" x2="61.2" y2="438.06"/>
<line x1="367.5" y1="438.06" x2="366.3" y2="438.06"/>
<line x1="60.0" y1="437.32" x2="61.2" y2="437.32"/>
<line x1="367.5" y1="437.32" x2="366.3" y2="437.32"/>
<line x1="60.0" y1="461.37" x2="61.2" y2="461.37"/>
<line x1="367.5" y1="461.37" x2="366.3" y2="461.37"/>
<line x1="60.0" y1="458.81" x2="61.2" y2="458.81"/>
<line x1="367.5" y1="458.81" x2="366.3" y2="458.81"/>
<line x1="60.0" y1="456.99" x2="61.2" y2="456.99"/>
<line x1="367.5" y1="456.99" x2="366.3" y2="456.99"/>
<line x1="60.0" y1="455.58" x2="61.2" y2="455.58"/>
<line x1="367.5" y1="455.58" x2="366.3" y2="455.58"/>
<line x1="60.0" y1="454.43" x2="61.2" y2="454.43"/>
<line x1="367.5" y1="454.43" x2="366.3" y2="454.43"/>
<line x1="60.0" y1="453.45" x2="61.2" y2="453.45"/>
<line x1="367.5" y1="453.45" x2="366.3" y2="453.45"/>
<line x1="60.0" y1="452.61" x2="61.2" y2="452.61"/>
<line x1="367.5" y1="452.61" x2="366.3" y2="452.61"/>
<line x1="60.0" y1="451.87" x2="61.2" y2="451.87"/>
<line x1="367.5" y1="451.87" x2="366.3" y2="451.87"/>
<line x1="60.0" y1="475.92" x2="61.2" y2="475.92"/>
<line x1="367.5" y1="475.92" x2="366.3" y2="475.92"/>
<line x1="60.0" y1="473.36" x2="61.2" y2="473.36"/>
<line x1="367.5" y1="473.36" x2="366.3" y2="473.36"/>
<line x1="60.0" y1="471.54" x2="61.2" y2="471.54"/>
<line x1="367.5" y1="471.54" x2="366.3" y2="471.54"/>
<line x1="60.0" y1="470.13" x2="61.2" y2="470.13"/>
<line x1="367.5" y1="470.13" x2="366.3" y2="470.13"/>
<line x1="60.0" y1="468.98" x2="61.2" y2="468.98"/>
<line x1="367.5" y1="468.98" x2="366.3" y2="468.98"/>
<line x1="60.0" y1="468.00" x2="61.2" y2="468.00"/>
<line x1="367.5" y1="468.00" x2="366.3" y2="468.00"/>
<line x1="60.0" y1="467.16" x2="61.2" y2="467.16"/>
<line x1="367.5" y1="467.16" x2="366.3" y2="467.16"/>
<line x1="60.0" y1="466.42" x2="61.2" y2="466.42"/>
<line x1="367.5" y1="466.42" x2="366.3" y2="466.42"/>
<line x1="60.0" y1="490.47" x2="61.2" y2="490.47"/>
<line x1="367.5" y1="490.47" x2="366.3" y2="490.47"/>
<line x1="60.0" y1="487.91" x2="61.2" y2="487.91"/>
<line x1="367.5" y1="487.91" x2="366.3" y2="487.91"/>
<line x1="60.0" y1="486.09" x2="61.2" y2="486.09"/>
<line x1="367.5" y1="486.09" x2="366.3" y2="486.09"/>
<line x1="60.0" y1="484.68" x2="61.2" y2="484.68"/>
<line x1="367.5" y1="484.68" x2="366.3" y2="484.68"/>
<line x1="60.0" y1="483.53" x2="61.2" y2="483.53"/>
<line x1="367.5" y1="483.53" x2="366.3" y2="483.53"/>
<line x1="60.0" y1="482.55" x2="61.2" y2="482.55"/>
<line x1="367.5" y1="482.55" x2="366.3" y2="482.55"/>
<line x1="60.0" y1="481.71" x2="61.2" y2="481.71"/>
<line x1="367.5" y1="481.71" x2="366.3" y2="481.71"/>
<line x1="60.0" y1="480.97" x2="61.2" y2="480.97"/>
<line x1="367.5" y1="480.97" x2="366.3" y2="480.97"/>
<line x1="60.0" y1="505.02" x2="61.2" y2="505.02"/>
<line x1="367.5" y1="505.02" x2="366.3" y2="505.02"/>
<line x1="60.0" y1="502.46" x2="61.2" y2="502.46"/>
<line x1="367.5" y1="502.46" x2="366.3" y2="502.46"/>
<line x1="60.0" y1="500.64" x2="61.2" y2="500.64"/>
<line x1="367.5" y1="500.64" x2="366.3" y2="500.64"/>
<line x1="60.0" y1="499.23" x2="61.2" y2="499.23"/>
<line x1="367.5" y1="499.23" x2="366.3" y2="499.23"/>
<line x1="60.0" y1="498.08" x2="61.2" y2="498.08"/>
<line x1="367.5" y1="498.08" x2="366.3" y2="498.08"/>
<line x1="60.0" y1="497.10" x2="61.2" y2="497.10"/>
<line x1="367.5" y1="497.10" x2="366.3" y2="497.10"/>
<line x1="60.0" y1="496.26" x2="61.2" y2="496.26"/>
<line x1="367.5" y1="496.26" x2="366.3" y2="496.26"/>
<line x1="60.0" y1="495.52" x2="61.2" y2="495.52"/>
<line x1="367.5" y1="495.52" x2="366.3" y2="495.52"/>
<line x1="65.98" y1="393.0" x2="65.98" y2="394.5" stroke-width="0.8"/>
<line x1="78.84" y1="393.0" x2="78.84" y2="394.5" stroke-width="0.8"/>
<line x1="91.71" y1="393.0" x2="91.71" y2="394.5" stroke-width="0.8"/>
<line x1="104.58" y1="393.0" x2="104.58" y2="394.5" stroke-width="0.8"/>
<line x1="117.44" y1="393.0" x2="117.44" y2="394.5" stroke-width="0.8"/>
<line x1="130.31" y1="393.0" x2="130.31" y2="394.5" stroke-width="0.8"/>
<line x1="143.17" y1="393.0" x2="143.17" y2="394.5" stroke-width="0.8"/>
<line x1="156.03" y1="393.0" x2="156.03" y2="394.5" stroke-width="0.8"/>
<line x1="168.90" y1="393.0" x2="168.90" y2="394.5" stroke-width="0.8"/>
<line x1="181.77" y1="393.0" x2="181.77" y2="394.5" stroke-width="0.8"/>
<line x1="194.63" y1="393.0" x2="194.63" y2="394.5" stroke-width="0.8"/>
<line x1="207.50" y1="393.0" x2="207.50" y2="394.5" stroke-width="0.8"/>
<line x1="220.36" y1="393.0" x2="220.36" y2="394.5" stroke-width="0.8"/>
<line x1="233.22" y1="393.0" x2="233.22" y2="394.5" stroke-width="0.8"/>
<line x1="246.09" y1="393.0" x2="246.09" y2="394.5" stroke-width="0.8"/>
<line x1="258.95" y1="393.0" x2="258.95" y2="394.5" stroke-width="0.8"/>
<line x1="271.82" y1="393.0" x2="271.82" y2="394.5" stroke-width="0.8"/>
<line x1="284.69" y1="393.0" x2="284.69" y2="394.5" stroke-width="0.8"/>
<line x1="297.55" y1="393.0" x2="297.55" y2="394.5" stroke-width="0.8"/>
<line x1="310.41" y1="393.0" x2="310.41" y2="394.5" stroke-width="0.8"/>
<line x1="323.28" y1="393.0" x2="323.28" y2="394.5" stroke-width="0.8"/>
<line x1="336.14" y1="393.0" x2="336.14" y2="394.5" stroke-width="0.8"/>
<line x1="349.01" y1="393.0" x2="349.01" y2="394.5" stroke-width="0.8"/>
<line x1="361.87" y1="393.0" x2="361.87" y2="394.5" stroke-width="0.8"/>
</g>
<g fill="#000">
<text x="58.4" y="395.45" text-anchor="end" font-size="7.2" font-weight="bold">10<tspan font-size="4.7" dy="-4">-4</tspan></text>
<text x="58.4" y="410.00" text-anchor="end" font-size="7.2" font-weight="bold">10<tspan font-size="4.7" dy="-4">-5</tspan></text>
<text x="58.4" y="424.55" text-anchor="end" font-size="7.2" font-weight="bold">10<tspan font-size="4.7" dy="-4">-6</tspan></text>
<text x="58.4" y="439.10" text-anchor="end" font-size="7.2" font-weight="bold">10<tspan font-size="4.7" dy="-4">-7</tspan></text>
<text x="58.4" y="453.65" text-anchor="end" font-size="7.2" font-weight="bold">10<tspan font-size="4.7" dy="-4">-8</tspan></text>
<text x="58.4" y="468.20" text-anchor="end" font-size="7.2" font-weight="bold">10<tspan font-size="4.7" dy="-4">-9</tspan></text>
<text x="58.4" y="482.75" text-anchor="end" font-size="7.2" font-weight="bold">10<tspan font-size="4.7" dy="-4">-10</tspan></text>
<text x="58.4" y="497.30" text-anchor="end" font-size="7.2" font-weight="bold">10<tspan font-size="4.7" dy="-4">-11</tspan></text>
<text x="58.4" y="511.85" text-anchor="end" font-size="7.2" font-weight="bold">10<tspan font-size="4.7" dy="-4">-12</tspan></text>
</g>
<g font-size="7.5" font-weight="bold" fill="#000" stroke="#000" stroke-width="0.2">
<text transform="translate(67.98,510.90) rotate(-90) scale(0.98,1)" text-anchor="end">C</text>
<text transform="translate(80.84,510.90) rotate(-90) scale(0.98,1)" text-anchor="end">F</text>
<text transform="translate(93.71,510.90) rotate(-90) scale(0.98,1)" text-anchor="end">CF</text>
<text transform="translate(106.58,510.90) rotate(-90) scale(0.98,1)" text-anchor="end">Ar</text>
<text transform="translate(119.44,510.90) rotate(-90) scale(0.98,1)" text-anchor="end">CF2</text>
<text transform="translate(132.31,510.90) rotate(-90) scale(0.98,1)" text-anchor="end">C3F</text>
<text transform="translate(145.17,510.90) rotate(-90) scale(0.98,1)" text-anchor="end">C2F2</text>
<text transform="translate(158.03,510.90) rotate(-90) scale(0.98,1)" text-anchor="end">CF3</text>
<text transform="translate(170.90,510.90) rotate(-90) scale(0.98,1)" text-anchor="end">C3F2</text>
<text transform="translate(183.77,510.90) rotate(-90) scale(0.98,1)" text-anchor="end">C5F</text>
<text transform="translate(196.63,510.90) rotate(-90) scale(0.98,1)" text-anchor="end">C2F3</text>
<text transform="translate(209.50,510.90) rotate(-90) scale(0.98,1)" text-anchor="end">C4F2</text>
<text transform="translate(222.36,510.90) rotate(-90) scale(0.98,1)" text-anchor="end">C3F3</text>
<text transform="translate(235.22,510.90) rotate(-90) scale(0.98,1)" text-anchor="end">C5F2</text>
<text transform="translate(248.09,510.90) rotate(-90) scale(0.98,1)" text-anchor="end">C2F4</text>
<text transform="translate(260.95,510.90) rotate(-90) scale(0.98,1)" text-anchor="end">C4F3</text>
<text transform="translate(273.82,510.90) rotate(-90) scale(0.98,1)" text-anchor="end">C5F3</text>
<text transform="translate(286.69,510.90) rotate(-90) scale(0.98,1)" text-anchor="end">C2F5</text>
<text transform="translate(299.55,510.90) rotate(-90) scale(0.98,1)" text-anchor="end">C4F4</text>
<text transform="translate(312.41,510.90) rotate(-90) scale(0.98,1)" text-anchor="end">C3F5</text>
<text transform="translate(325.28,510.90) rotate(-90) scale(0.98,1)" text-anchor="end">C5F4</text>
<text transform="translate(338.14,510.90) rotate(-90) scale(0.98,1)" text-anchor="end">C5F5</text>
<text transform="translate(351.01,510.90) rotate(-90) scale(0.98,1)" text-anchor="end">C6F5</text>
<text transform="translate(363.87,510.90) rotate(-90) scale(0.98,1)" text-anchor="end">C6F6</text>
</g>
<text x="213.5" y="543.9" font-size="10.6" font-weight="bold" text-anchor="middle" fill="#000">Species</text>
<text transform="translate(34.3,454.2) rotate(-90)" font-size="10.6" font-weight="bold" text-anchor="middle" fill="#000">QMS signal (a.u.)</text>
<text transform="translate(65.5,409.5) scale(1.05,1)" font-size="13.1" font-weight="bold" font-style="italic" fill="#00f">C<tspan font-size="9.5" dy="4.3">6</tspan><tspan dy="-4.3">F</tspan><tspan font-size="9.5" dy="4.3">6</tspan></text>
<rect x="308.1" y="400.60" width="16.9" height="7.2" fill="#000"/>
<text x="327.4" y="406.60" font-size="7.1" font-weight="bold" fill="#000" letter-spacing="0.17">10 m<tspan dx="0.8">Torr</tspan></text>
<rect x="308.1" y="410.25" width="16.9" height="7.2" fill="#f00"/>
<text x="327.4" y="416.25" font-size="7.1" font-weight="bold" fill="#000" letter-spacing="0.17">20 m<tspan dx="0.8">Torr</tspan></text>
<rect x="308.1" y="419.90" width="16.9" height="7.2" fill="#00f"/>
<text x="327.4" y="425.90" font-size="7.1" font-weight="bold" fill="#000" letter-spacing="0.17">30 m<tspan dx="0.8">Torr</tspan></text>
</svg></body></html>
